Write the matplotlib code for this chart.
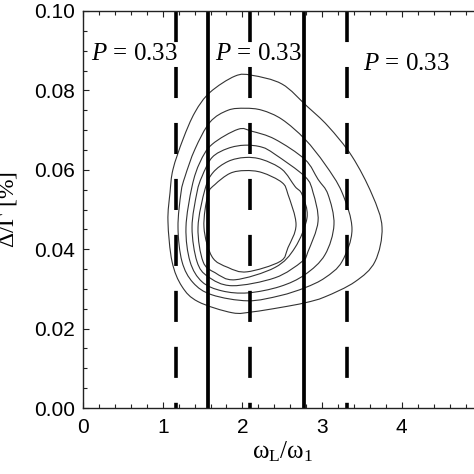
import numpy as np
import matplotlib
matplotlib.use('Agg')
import matplotlib.pyplot as plt
from matplotlib.path import Path
from matplotlib.patches import PathPatch
from matplotlib.ticker import MultipleLocator

plt.rcParams['mathtext.fontset'] = 'custom'
plt.rcParams['mathtext.rm'] = 'Liberation Serif'
plt.rcParams['mathtext.it'] = 'Liberation Serif:italic'

# vertical lines (omega_L/omega_1 positions)
DASHED_X = [1.17, 2.09, 3.31]
SOLID_X  = [1.57, 2.77]

# text labels
P_LABELS = ['$P$ = 0.33', '$P$ = 0.33', '$P$ = 0.33']
P_POS    = [(0.10, 0.0876), (1.66, 0.0876), (3.51, 0.0851)]

# contour lines, outer to inner (x, y)
C1_X = [1.066, 1.092, 1.129, 1.255, 1.405, 1.593, 1.907, 2.120, 2.497, 2.811, 3.074, 3.375,
        3.626, 3.752, 3.664, 3.413, 3.036, 2.785, 2.472, 2.120, 1.870, 1.443, 1.242, 1.117]
C1_Y = [0.0470, 0.0543, 0.0601, 0.0677, 0.0745, 0.0795, 0.0836, 0.0838, 0.0816, 0.0760, 0.0710, 0.0634,
        0.0538, 0.0455, 0.0369, 0.0318, 0.0280, 0.0265, 0.0253, 0.0242, 0.0240, 0.0268, 0.0306, 0.0369]
C2_X = [1.192, 1.230, 1.280, 1.405, 1.593, 1.819, 2.033, 2.246, 2.497, 2.785, 3.036, 3.250,
        3.375, 3.250, 3.036, 2.785, 2.472, 2.070, 1.619, 1.380, 1.242]
C2_Y = [0.0455, 0.0543, 0.0583, 0.0652, 0.0720, 0.0750, 0.0755, 0.0750, 0.0727, 0.0677, 0.0614, 0.0543,
        0.0450, 0.0369, 0.0328, 0.0303, 0.0283, 0.0270, 0.0285, 0.0316, 0.0369]
C3_X = [1.292, 1.368, 1.468, 1.619, 1.945, 2.120, 2.409, 2.785, 2.949, 3.074, 3.149, 3.036,
        2.785, 2.472, 2.070, 1.744, 1.493, 1.343]
C3_Y = [0.0455, 0.0558, 0.0619, 0.0664, 0.0702, 0.0697, 0.0677, 0.0626, 0.0576, 0.0538, 0.0462, 0.0386,
        0.0336, 0.0306, 0.0290, 0.0295, 0.0318, 0.0369]
C4_X = [1.368, 1.430, 1.493, 1.619, 1.819, 2.033, 2.246, 2.409, 2.785, 2.886, 2.949, 2.823,
        2.748, 2.409, 1.870, 1.568, 1.430]
C4_Y = [0.0455, 0.0543, 0.0583, 0.0631, 0.0654, 0.0662, 0.0657, 0.0639, 0.0583, 0.0543, 0.0470, 0.0394,
        0.0369, 0.0328, 0.0308, 0.0331, 0.0369]
C5_X = [1.443, 1.531, 1.631, 1.819, 2.033, 2.246, 2.497, 2.660, 2.748, 2.811, 2.660, 2.409,
        1.907, 1.656, 1.506]
C5_Y = [0.0455, 0.0551, 0.0593, 0.0621, 0.0631, 0.0626, 0.0601, 0.0558, 0.0538, 0.0480, 0.0404, 0.0354,
        0.0323, 0.0341, 0.0369]
C6_X = [1.518, 1.568, 1.656, 1.844, 2.033, 2.246, 2.497, 2.572, 2.673, 2.572, 2.472, 2.058,
        1.819, 1.619]
C6_Y = [0.0455, 0.0538, 0.0563, 0.0591, 0.0598, 0.0593, 0.0568, 0.0538, 0.0462, 0.0404, 0.0369, 0.0343,
        0.0354, 0.0381]

CONTOURS = [(C1_X, C1_Y), (C2_X, C2_Y), (C3_X, C3_Y), (C4_X, C4_Y), (C5_X, C5_Y), (C6_X, C6_Y)]


def smooth_closed_path(xs, ys):
    # closed curve through the read points, drawn as cubic bezier segments
    p = np.column_stack([xs, ys])
    n = len(p)
    verts = [p[0]]
    codes = [Path.MOVETO]
    for i in range(n):
        p0, p1, p2, p3 = p[i - 1], p[i], p[(i + 1) % n], p[(i + 2) % n]
        verts += [p1 + (p2 - p0) / 6, p2 - (p3 - p1) / 6, p2]
        codes += [Path.CURVE4] * 3
    return Path(verts, codes)


fig = plt.figure(figsize=(4.74, 4.74), dpi=100)
ax = fig.add_axes([83/474, 66/474, 398.5/474, 397/474])

for cx, cy in CONTOURS:
    ax.add_patch(PathPatch(smooth_closed_path(cx, cy), facecolor='none',
                           edgecolor='#333333', lw=0.8))

for x in SOLID_X:
    ax.plot([x, x], [0.1, 0.0], color='black', lw=2.7, solid_capstyle='butt')
for x in DASHED_X:
    ax.plot([x, x], [0.1, 0.0], color='black', lw=2.6,
            dashes=(8.6, 6.9), dash_capstyle='butt')

for (tx, ty), s in zip(P_POS, P_LABELS):
    ax.text(tx, ty, s, fontsize=18, family='Liberation Serif', va='baseline', ha='left')

ax.set_xlim(0, 5)
ax.set_ylim(0, 0.1)
ax.set_xticks([0, 1, 2, 3, 4])
ax.set_yticks([0.0, 0.02, 0.04, 0.06, 0.08, 0.10])
ax.set_yticklabels(['0.00', '0.02', '0.04', '0.06', '0.08', '0.10'])
ax.xaxis.set_minor_locator(MultipleLocator(0.2))
ax.yaxis.set_minor_locator(MultipleLocator(0.005))
ax.tick_params(which='both', direction='in', top=True, right=False, color='#222222', width=0.8)
ax.tick_params(which='major', length=4.5)
ax.tick_params(which='minor', length=3)
ax.tick_params(axis='x', which='major', pad=7, labelsize=15)
ax.tick_params(axis='y', which='major', pad=5.5, labelsize=15)
for lab in ax.get_xticklabels() + ax.get_yticklabels():
    lab.set_family('Liberation Sans')
for sp in ax.spines.values():
    sp.set_linewidth(1.0)
    sp.set_color('#222222')

ax.set_xlabel(r'$\mathrm{\omega_L/\omega_1}$', fontsize=18, labelpad=2)
ax.set_ylabel(r'$\mathrm{\Delta/\Gamma}$ [%]', fontsize=17, family='Liberation Serif')
ax.yaxis.set_label_coords(-64/398.5, 0.5)

fig.savefig('out.png', dpi=100)
